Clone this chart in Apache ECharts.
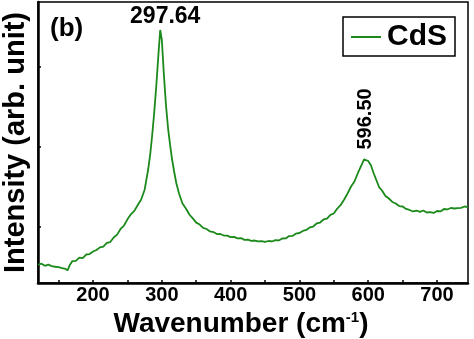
<!DOCTYPE html>
<html>
<head>
<meta charset="utf-8">
<script src="https://cdn.jsdelivr.net/npm/echarts@6/dist/echarts.min.js"></script>
<style>
  html, body { margin: 0; padding: 0; background: #fff; }
  #chart { width: 474px; height: 339px; }
</style>
</head>
<body>
<div id="chart"></div>
<script>
// Raman spectrum of CdS: wavenumber (cm-1) vs. intensity (arbitrary units)
const wavenumber = [
  120, 125, 130, 135, 140, 145, 150, 155, 160, 163, 166, 170, 175, 180, 185, 190, 195,
  200, 205, 210, 215, 220, 225, 230, 235, 240, 245, 250, 255, 260, 265, 270, 275,
  280, 283, 286, 289, 292, 295, 297.64, 300, 303, 306, 309, 312, 315, 318, 321,
  325, 330, 335, 340, 345, 350, 355, 360, 365, 370, 375, 380, 385, 390, 395,
  400, 405, 410, 415, 420, 425, 430, 435, 440, 445, 450, 455, 460, 465, 470, 475,
  480, 485, 490, 495, 500, 505, 510, 515, 520, 525, 530, 535, 540, 545, 550, 555,
  560, 565, 570, 575, 580, 585, 590, 594, 596.50, 600, 604, 608, 612, 616, 620,
  625, 630, 635, 640, 645, 650, 655, 660, 665, 670, 675, 680, 685, 690, 695,
  700, 705, 710, 715, 720, 725, 730, 735, 740, 745
];
const intensity = [
  528, 542, 515, 529, 511, 503, 499, 486, 476, 458, 521, 574, 577, 618, 611, 656, 662,
  694, 712, 745, 756, 801, 812, 868, 905, 976, 1018, 1096, 1158, 1201, 1275, 1344, 1466,
  1712, 1900, 2150, 2437, 2775, 3150, 3462, 3337, 2900, 2525, 2237, 2025, 1837, 1687, 1550,
  1418, 1294, 1231, 1156, 1107, 1055, 1031, 988, 975, 944, 937, 912, 913, 893, 892,
  874, 876, 857, 862, 839, 843, 826, 831, 819, 824, 813, 825, 819, 836, 832, 856,
  857, 887, 888, 918, 925, 951, 963, 994, 1006, 1044, 1056, 1094, 1106, 1151, 1169, 1231,
  1275, 1343, 1419, 1506, 1569, 1675, 1769, 1844, 1856, 1825, 1768, 1669, 1581, 1494, 1456,
  1388, 1356, 1313, 1294, 1262, 1256, 1225, 1213, 1194, 1206, 1188, 1206, 1181, 1187, 1175,
  1200, 1194, 1225, 1219, 1238, 1231, 1237, 1240, 1256, 1248
];
// peak positions that get a value label
const peaks = [297.64, 596.50];
const xTickLabels = [200, 300, 400, 500, 600, 700];
const xTicks = [150, 200, 250, 300, 350, 400, 450, 500, 550, 600, 650, 700];
const yTicks = [1000, 2000, 3000];

const FONT = 'Liberation Sans, Arial, sans-serif';
const GREEN = '#1b8a1b';

const seriesData = wavenumber.map((w, i) => {
  const item = { value: [w, intensity[i]] };
  if (w === peaks[0]) {
    item.label = {
      show: true, position: 'top', distance: 2,
      formatter: p => p.value[0].toFixed(2),
      fontFamily: FONT, fontWeight: 'bold', fontSize: 23, color: '#000',
      offset: [5, 0]
    };
  } else if (w === peaks[1]) {
    item.label = {
      show: true, position: 'top', distance: 9, rotate: 90,
      align: 'left', verticalAlign: 'middle',
      formatter: p => p.value[0].toFixed(2),
      fontFamily: FONT, fontWeight: 'bold', fontSize: 20, color: '#000'
    };
  }
  return item;
});

const chart = echarts.init(document.getElementById('chart'), null, { renderer: 'canvas' });
chart.setOption({
  animation: false,
  backgroundColor: '#fff',
  grid: {
    left: 38, right: 6, top: 2, bottom: 56,
    outerBoundsMode: 'none', containLabel: false,
    show: true, borderColor: '#000', borderWidth: 1.5, backgroundColor: 'transparent'
  },
  legend: {
    data: [{ name: 'CdS', icon: 'rect' }],
    right: 19, top: 17,
    borderColor: '#000', borderWidth: 1.5, borderRadius: 0,
    padding: [5, 8, 4, 8],
    itemWidth: 30, itemHeight: 2,
    textStyle: { fontFamily: FONT, fontWeight: 'bold', fontSize: 30, color: '#000', padding: [0, 0, 0, 1] }
  },
  graphic: [{
    type: 'text', left: 50, top: 16,
    style: { text: '(b)', font: 'bold 26px ' + FONT, fill: '#000' }
  }],
  xAxis: {
    type: 'value', min: 120, max: 745,
    name: 'Wavenumber (cm{sup|-1})', nameLocation: 'middle', nameGap: 10,
    nameTextStyle: {
      fontFamily: FONT, fontWeight: 'bold', fontSize: 28, color: '#000',
      padding: [0, 24, 0, 0],
      rich: { sup: { fontFamily: FONT, fontWeight: 'bold', fontSize: 15, color: '#000', verticalAlign: 'top', padding: [0, 0, 12, 0] } }
    },
    axisLine: { lineStyle: { color: '#000', width: 2.5 } },
    axisTick: { inside: true, length: 3, lineStyle: { color: '#000', width: 1.5 }, customValues: xTicks },
    axisLabel: { customValues: xTickLabels, margin: 2, fontFamily: FONT, fontWeight: 'bold', fontSize: 20, color: '#000' },
    splitLine: { show: false }
  },
  yAxis: {
    type: 'value', min: 300, max: 3812,
    name: 'Intensity (arb. unit)', nameLocation: 'middle', nameGap: 8,
    nameTextStyle: { fontFamily: FONT, fontWeight: 'bold', fontSize: 29, color: '#000' },
    axisLine: { lineStyle: { color: '#000', width: 2.5 } },
    axisTick: { inside: true, length: 3, lineStyle: { color: '#000', width: 1.5 }, customValues: yTicks },
    axisLabel: { show: false },
    splitLine: { show: false }
  },
  series: [{
    name: 'CdS', type: 'line', data: seriesData,
    showSymbol: true, symbol: 'circle', symbolSize: 0,
    lineStyle: { color: GREEN, width: 1.8 },
    itemStyle: { color: GREEN }
  }]
});
</script>
</body>
</html>
